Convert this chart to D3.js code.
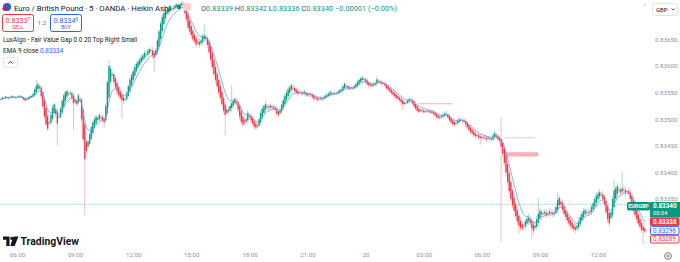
<!DOCTYPE html>
<html>
<head>
<meta charset="utf-8">
<script src="https://cdn.jsdelivr.net/npm/d3@7"></script>
<style>
  body { margin: 0; background: #fff; }
  svg { display: block; font-family: Roboto, "Liberation Sans", sans-serif; }
</style>
</head>
<body>
<svg id="chart" width="680" height="262"></svg>
<script>
/* global d3 */

// Heikin Ashi closes, 5 min bars from 05:10 on the 19th, in 0.00001 above 0.83000
const closePips = [
  538, 541, 540, 543, 541, 539, 542, 544, 541, 540,
  542, 544, 543, 540, 537, 535, 538, 541, 543, 544,
  548, 556, 563, 566, 558, 543, 524, 505, 490, 482,
  492, 508, 522, 528, 510, 492, 505, 520, 535, 545, 551, 553, 548, 550,
  540, 530, 532, 528, 545, 535, 500, 462, 425,
  440, 458, 472, 485, 494, 500, 505, 502, 508, 504, 498, 494,
  525, 570, 600, 595, 585, 570, 560, 552, 545, 540, 536, 534, 538,
  550, 562, 575, 583, 590, 598, 604, 608, 612, 616, 620, 625, 622, 628, 632, 630,
  620, 616, 630, 648, 665, 680, 692, 700, 706,
  704, 708, 712, 706, 710, 714, 716, 712, 716, 718, 714,
  700, 688, 672, 665, 658, 650, 646, 640, 644, 640, 648, 656, 658,
  650, 640, 626, 612, 598, 585, 574, 562, 550, 540, 528, 516, 508,
  512, 518, 525, 530, 535, 538, 530, 518, 505, 495, 490, 494,
  500, 512, 506, 498, 492, 486, 484, 488, 500, 512, 520, 525, 528,
  524, 521, 526, 522, 520, 518, 510, 508,
  518, 528, 536, 544, 550, 556, 560, 564, 558, 553, 550, 548, 551,
  549, 547, 552, 546, 544, 548, 545, 542, 538, 540, 536, 538, 540, 537, 541, 544,
  546, 548, 551, 550, 549, 548, 550, 552, 555, 556, 562, 567,
  562, 558, 557, 560, 558, 562, 566, 570, 574, 577, 578, 575,
  570, 566, 563, 564, 562, 566, 568, 575, 572, 568, 566, 567, 563,
  558, 556, 552, 549, 546, 543, 540, 538, 536, 532, 528, 529, 531,
  535, 538, 537, 530, 524, 520,
  516, 514, 515, 517, 513, 514, 516, 515, 512, 514,
  510, 507, 504, 502, 503, 506, 508, 511, 509,
  503, 498, 494, 491, 489, 493, 497, 500, 499, 497, 495,
  490, 485, 480, 476, 473, 470, 468, 470, 466, 464, 467, 465,
  464, 462, 465, 463, 461, 470, 474, 466, 462, 460,
  448, 435, 418, 400, 382, 365, 350, 338, 328,
  318, 308, 300, 296, 294, 300, 308, 313, 315, 305, 295, 290,
  300, 312, 322, 328, 325, 322, 326, 320, 323, 327, 324, 321, 325,
  335, 348, 352, 340, 330, 322, 316, 310, 304, 300, 296, 293, 292,
  300, 308, 316, 322, 327, 329, 326, 324, 327,
  335, 342, 350, 356, 360, 363, 358, 350, 340, 325, 312, 304,
  325, 350, 366, 370, 374, 368, 362, 370, 366, 362, 365, 360,
  350, 338, 328, 320, 312, 304, 298, 292, 290, 289
];

// total wick length per bar (same units)
const wickPips = [
  3, 2, 4, 2, 3, 5, 2, 3, 2, 4, 3, 2, 5, 3, 2, 4, 3, 2, 3, 2,
  4, 6, 5, 8, 6, 9, 7, 10, 6, 8, 5, 7, 9, 6, 14, 8, 6, 7, 5, 8,
  6, 8, 5, 9, 7, 12, 6, 5, 8, 7, 10, 9, 12, 8, 6, 9, 7, 10, 8, 6,
  7, 9, 12, 8, 6, 10, 8, 7, 12, 9, 10, 8, 11, 7, 9, 8, 12, 6, 8, 7,
  9, 10, 8, 12, 7, 9, 8, 10, 7, 9, 12, 8, 6, 9, 14, 10, 7, 9, 8, 10,
  9, 8, 12, 7, 10, 8, 9, 11, 8, 7, 9, 10, 8, 12, 9, 11, 8, 10, 12, 9,
  8, 11, 9, 13, 8, 10, 12, 9, 11, 8, 14, 10, 9, 12, 8, 10, 13, 9, 11, 10,
  9, 12, 8, 14, 10, 8, 11, 9, 12, 10, 8, 11, 9, 13, 8, 10, 12, 8, 9, 11,
  8, 10, 9, 7, 11, 8, 9, 7, 10, 8, 9, 11, 8, 7, 10, 9, 8, 11, 9, 8,
  7, 9, 8, 6, 10, 7, 8, 6, 9, 7, 5, 8, 6, 7, 9, 5, 6, 8, 5, 7,
  6, 5, 7, 5, 6, 8, 5, 6, 4, 7, 5, 6, 8, 5, 7, 6, 5, 8, 6, 7,
  6, 8, 5, 7, 9, 6, 5, 7, 6, 8, 5, 6, 7, 9, 6, 5, 7, 6, 8, 5,
  7, 6, 8, 5, 7, 9, 6, 8, 10, 7, 6, 8, 5, 7, 9, 6, 8, 5, 7, 6,
  5, 7, 6, 4, 6, 5, 7, 6, 8, 5, 7, 6, 9, 5, 7, 6, 8, 7, 9, 6,
  7, 9, 6, 8, 5, 7, 9, 6, 10, 8, 7, 9, 6, 8, 11, 7, 9, 8, 12, 7,
  8, 10, 7, 9, 6, 8, 10, 7, 9, 8, 12, 10, 8, 14, 10, 12, 9, 11, 13, 10,
  14, 11, 12, 9, 13, 10, 12, 15, 11, 9, 13, 10, 12, 14, 9, 11, 13, 10, 12, 9,
  11, 13, 10, 12, 9, 14, 10, 12, 11, 9, 13, 10, 12, 14, 11, 9, 12, 10, 13, 11,
  10, 12, 9, 11, 13, 10, 12, 9, 11, 14, 10, 12, 9, 13, 11, 10, 14, 12, 9, 11,
  12, 10, 13, 9, 11, 10, 12, 14, 9, 11, 13, 10, 12, 9, 14, 11, 10, 12, 13, 9
];

// long wicks: [bar, high, low]
const spikes = [
  [22, 574, null], [35, null, 450], [45, null, 480], [52, null, 320],
  [64, null, 484], [67, 611, null], [75, null, 502], [95, null, 590],
  [126, 678, null], [139, null, 470], [143, 564, null], [233, 582, null],
  [249, null, 517], [276, 516, null], [297, null, 452], [310, 502, 270],
  [321, null, 285], [329, null, 274], [333, 352, null], [345, 363, null],
  [380, 385, null], [385, 401, null], [398, null, 265]
];

// LuxAlgo FVG marks: [fromBar, toBar, top, bottom]
const fvgZones = [[259, 280, 529, 528], [312, 333, 437, 429]];
const fvgLines = [[312, 331, 465]];

const priceTicks = [0.8335, 0.834, 0.8345, 0.835, 0.8355, 0.836, 0.8365];
const timeTicks = [
  [19, 6], [19, 9], [19, 12], [19, 15], [19, 18], [19, 21],
  [20, 0], [20, 3], [20, 6], [20, 9], [20, 12]
];

const lastPrice = 0.83340;
const priceLabels = [
  { value: 0.83338, text: '0.83338', fill: '#f23645', color: '#fff', stroke: '#f23645' },
  { value: 0.83296, text: '0.83296', fill: '#fff', color: '#2962ff', stroke: '#2962ff' },
  { value: 0.83289, text: '0.83289', fill: '#fff', color: '#f23645', stroke: '#f23645' },
];

const green = '#089981';
const red = '#f23645';
const emaLength = 9;

const svg = d3.select('#chart');
const plotRight = 650;

const barTime = i => new Date(2024, 2, 19, 5, 10 + i * 5);
const x = d3.scaleTime()
  .domain([new Date(2024, 2, 19, 6, 0), new Date(2024, 2, 20, 12, 0)])
  .range([17, 598]);
const y = d3.scaleLinear()
  .domain([0.8335, 0.8365])
  .range([199, 39.4]);
const p = v => 0.83 + v / 100000;

// build Heikin Ashi bars
const bars = [];
closePips.forEach((c, i) => {
  const o = i === 0 ? c - 1 : (bars[i - 1].o + bars[i - 1].c) / 2;
  const w = wickPips[i] / 2;
  bars.push({ i, t: barTime(i), o, c, h: Math.max(o, c) + w, l: Math.min(o, c) - w });
});
spikes.forEach(([i, h, l]) => {
  if (h !== null) bars[i].h = Math.max(bars[i].h, h);
  if (l !== null) bars[i].l = Math.min(bars[i].l, l);
});

// EMA 9 of the chart close
let ema;
const emaPoints = bars.map(b => {
  ema = ema === undefined ? b.c : ema + (b.c - ema) * 2 / (emaLength + 1);
  return { t: b.t, v: ema };
});

// current price line
svg.append('line')
  .attr('x1', 0).attr('x2', 627)
  .attr('y1', y(lastPrice)).attr('y2', y(lastPrice))
  .attr('stroke', '#9fd3ca').attr('stroke-dasharray', '1,1');

// FVG marks
svg.selectAll('rect.fvg').data(fvgZones).join('rect')
  .attr('x', d => x(barTime(d[0])))
  .attr('width', d => x(barTime(d[1])) - x(barTime(d[0])))
  .attr('y', d => y(p(d[2])) - 0.5)
  .attr('height', d => Math.max(1, y(p(d[3])) - y(p(d[2]))))
  .attr('fill', '#f7a1aa').attr('opacity', 0.85);
svg.selectAll('line.fvg').data(fvgLines).join('line')
  .attr('x1', d => x(barTime(d[0]))).attr('x2', d => x(barTime(d[1])))
  .attr('y1', d => y(p(d[2]))).attr('y2', d => y(p(d[2])))
  .attr('stroke', '#f9c3c8');

// candles
const candle = svg.append('g').selectAll('g').data(bars).join('g')
  .attr('transform', d => `translate(${x(d.t)},0)`);
candle.append('line')
  .attr('y1', d => y(p(d.h))).attr('y2', d => y(p(d.l)))
  .attr('stroke', d => (d.c >= d.o ? green : red))
  .attr('stroke-opacity', 0.35);
candle.append('rect')
  .attr('x', -0.65).attr('width', 1.3)
  .attr('y', d => y(p(Math.max(d.o, d.c))))
  .attr('height', d => Math.max(0.8, Math.abs(y(p(d.o)) - y(p(d.c)))))
  .attr('fill', d => (d.c >= d.o ? green : red));

// EMA line
svg.append('path')
  .datum(emaPoints)
  .attr('fill', 'none')
  .attr('stroke', '#6f9cf5')
  .attr('stroke-opacity', 0.8)
  .attr('stroke-width', 1)
  .attr('d', d3.line().x(d => x(d.t)).y(d => y(p(d.v))));

// price axis
svg.append('g')
  .attr('transform', `translate(${plotRight},0)`)
  .call(d3.axisRight(y).tickValues(priceTicks).tickSize(0).tickPadding(5)
    .tickFormat(d3.format('.5f')))
  .call(g => g.select('.domain').remove())
  .call(g => g.selectAll('text').attr('fill', '#8f939c').attr('font-size', 6.2)
    .attr('font-family', 'Roboto, sans-serif'));

// time axis
svg.append('g')
  .attr('transform', 'translate(0,249)')
  .call(d3.axisBottom(x)
    .tickValues(timeTicks.map(([d, h]) => new Date(2024, 2, d, h)))
    .tickSize(0).tickPadding(4)
    .tickFormat(t => (t.getHours() === 0 ? String(t.getDate()) : d3.timeFormat('%H:%M')(t))))
  .call(g => g.select('.domain').remove())
  .call(g => g.selectAll('text').attr('fill', '#8f939c').attr('font-size', 6.2)
    .attr('font-family', 'Roboto, sans-serif'));

// last price labels
const lastY = y(lastPrice);
svg.append('rect').attr('x', 627).attr('y', lastY - 2.3).attr('width', 23).attr('height', 8.5)
  .attr('rx', 1.5).attr('fill', green);
svg.append('text').attr('x', 638.5).attr('y', lastY + 4).attr('text-anchor', 'middle')
  .attr('fill', '#fff').attr('font-size', 5.4).attr('font-weight', 700).text('EURGBP');
svg.append('rect').attr('x', 650).attr('y', lastY - 2.3).attr('width', 30).attr('height', 15.5)
  .attr('fill', green);
svg.append('text').attr('x', 653).attr('y', lastY + 4)
  .attr('fill', '#fff').attr('font-size', 6.3).attr('font-weight', 700).text('0.83340');
svg.append('text').attr('x', 653).attr('y', lastY + 11)
  .attr('fill', '#fff').attr('font-size', 5.8).text('00:04');

let nextTop = lastY + 13.2;
priceLabels.forEach(d => {
  const top = Math.max(y(d.value) - 4, nextTop);
  svg.append('rect').attr('x', 650.5).attr('y', top + 0.5).attr('width', 28.5).attr('height', 7.8)
    .attr('rx', 1).attr('fill', d.fill).attr('stroke', d.stroke);
  svg.append('text').attr('x', 653).attr('y', top + 6.6)
    .attr('fill', d.color).attr('font-size', 6.3).attr('font-weight', d.fill === '#fff' ? 400 : 700)
    .text(d.text);
  nextTop = top + 8.6;
});

// legend
svg.append('circle').attr('cx', 7).attr('cy', 7).attr('r', 4).attr('fill', '#2a5ad7');
svg.append('circle').attr('cx', 4.6).attr('cy', 8.6).attr('r', 2.2).attr('fill', '#c8232c');
svg.append('text').attr('x', 14).attr('y', 10.8).attr('font-size', 7.8).attr('fill', '#131722')
  .text('Euro / British Pound · 5 · OANDA · Heikin Ashi');
svg.append('circle').attr('cx', 179).attr('cy', 7).attr('r', 2.3).attr('fill', green);
svg.append('rect').attr('x', 183).attr('y', 3).attr('width', 8).attr('height', 8).attr('rx', 2)
  .attr('fill', '#f9cfd3');

const ohlc = svg.append('text').attr('x', 201).attr('y', 10.5).attr('font-size', 7.4);
[['O', '0.83339'], ['H', '0.83342'], ['L', '0.83336'], ['C', '0.83340']].forEach(([k, v]) => {
  ohlc.append('tspan').attr('fill', '#3b4a4f').text(k);
  ohlc.append('tspan').attr('fill', green).text(v + ' ');
});
ohlc.append('tspan').attr('fill', green).text('−0.00001 (−0.00%)');

// sell / buy
svg.append('rect').attr('x', 2.5).attr('y', 14.5).attr('width', 31).attr('height', 17).attr('rx', 2)
  .attr('fill', '#fff').attr('stroke', red);
svg.append('rect').attr('x', 50.5).attr('y', 14.5).attr('width', 31).attr('height', 17).attr('rx', 2)
  .attr('fill', '#fff').attr('stroke', '#2962ff');
[[18, red, '0.8333', '7', 'SELL'], [66, '#2962ff', '0.8334', '9', 'BUY']].forEach(([cx, c, a, b, s]) => {
  const t = svg.append('text').attr('x', cx).attr('y', 22.5).attr('text-anchor', 'middle')
    .attr('font-size', 7).attr('fill', c);
  t.append('tspan').text(a);
  t.append('tspan').attr('font-size', 5).attr('dy', -1.5).text(b);
  svg.append('text').attr('x', cx).attr('y', 29.3).attr('text-anchor', 'middle')
    .attr('font-size', 5.2).attr('fill', c).text(s);
});
svg.append('text').attr('x', 42).attr('y', 25).attr('text-anchor', 'middle')
  .attr('font-size', 6).attr('fill', '#6a6d78').text('1.2');

svg.append('text').attr('x', 3).attr('y', 41.5).attr('font-size', 6.4).attr('fill', '#131722')
  .text('LuxAlgo - Fair Value Gap 0 0 20 Top Right Small');
const emaText = svg.append('text').attr('x', 3).attr('y', 52.5).attr('font-size', 6.4);
emaText.append('tspan').attr('fill', '#131722').text('EMA 9 close ');
emaText.append('tspan').attr('fill', '#2962ff').text('0.83334');

svg.append('rect').attr('x', 3.5).attr('y', 57.5).attr('width', 14).attr('height', 10).attr('rx', 2)
  .attr('fill', '#fff').attr('stroke', '#e0e3eb');
svg.append('path').attr('d', 'M8.3,63.6 L10.5,61.4 L12.7,63.6').attr('fill', 'none')
  .attr('stroke', '#131722').attr('stroke-width', 0.9);

// currency switch
svg.append('rect').attr('x', 652.5).attr('y', 3.5).attr('width', 25).attr('height', 12).attr('rx', 2)
  .attr('fill', '#fff').attr('stroke', '#e0e3eb');
svg.append('text').attr('x', 656).attr('y', 11.8).attr('font-size', 6).attr('fill', '#131722').text('GBP');
svg.append('path').attr('d', 'M671.5,8.5 L673,10 L674.5,8.5').attr('fill', 'none')
  .attr('stroke', '#131722').attr('stroke-width', 0.7);
svg.append('circle').attr('cx', 645).attr('cy', 5).attr('r', 0.8).attr('fill', '#b2b5be');

// settings gear
svg.append('circle').attr('cx', 668).attr('cy', 256).attr('r', 3.4).attr('fill', 'none')
  .attr('stroke', '#6a6d78').attr('stroke-width', 0.9);
svg.append('circle').attr('cx', 668).attr('cy', 256).attr('r', 1.2).attr('fill', 'none')
  .attr('stroke', '#6a6d78').attr('stroke-width', 0.8);

// TradingView mark
const logo = svg.append('g').attr('fill', '#131722');
logo.append('path').attr('d', 'M3,236.5 H9.5 V246 H6.3 V239.7 H3 Z');
logo.append('circle').attr('cx', 11.8).attr('cy', 238.3).attr('r', 1.6);
logo.append('path').attr('d', 'M13.5,236.5 H18.5 L14.6,246 H10.2 Z');
svg.append('text').attr('x', 20.5).attr('y', 245.3).attr('font-size', 10.4).attr('font-weight', 700)
  .attr('fill', '#131722').text('TradingView');
</script>
</body>
</html>
